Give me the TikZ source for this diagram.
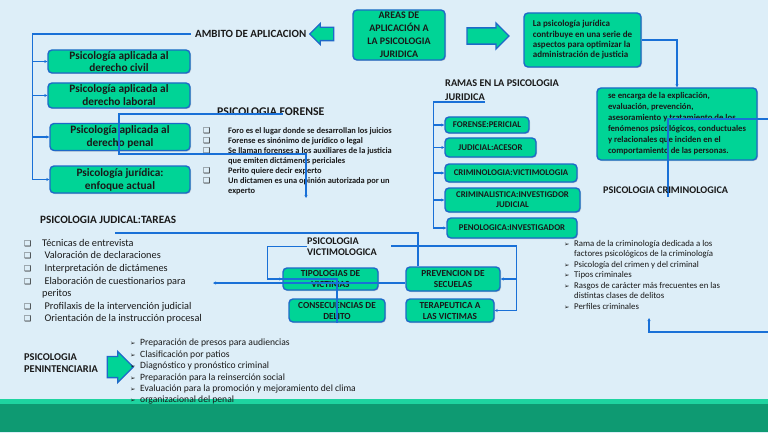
\documentclass[tikz,border=0pt]{standalone}
\usepackage{fontspec}
\setmainfont{Carlito}
\newfontfamily\symfont{DejaVu Sans}
\usetikzlibrary{positioning,arrows.meta,shapes.arrows,shadows}

\definecolor{bgblue}{RGB}{221,238,248}
\definecolor{boxgreen}{RGB}{0,212,150}
\definecolor{edgeblue}{RGB}{30,105,200}
\definecolor{lineblue}{RGB}{25,112,215}
\definecolor{bandlight}{RGB}{30,212,160}
\definecolor{banddark}{RGB}{14,154,114}
\definecolor{ink}{RGB}{25,25,25}

\newcommand{\sqbul}{{\symfont\fontsize{8}{8}\selectfont ❑}}
\newcommand{\arbul}{{\symfont\fontsize{6.5}{6.5}\selectfont ➢}}
\newcommand{\fs}[2]{\fontsize{#1}{#2}\selectfont}

\tikzset{
  greenbox/.style={draw=edgeblue, line width=1.4pt, fill=boxgreen, rounded corners=4pt,
    align=center, font=\bfseries, text=ink, inner sep=1pt,
    drop shadow={shadow xshift=1pt, shadow yshift=-1pt, opacity=0.35}},
  link/.style={lineblue, line width=1.1pt},
  linkarrow/.style={link, -{Stealth[length=3pt,width=3pt]}},
  blockarrow/.style={single arrow, draw=edgeblue, fill=boxgreen, line width=1.3pt,
    single arrow head extend=4pt, inner xsep=0pt, inner ysep=6pt},
  title/.style={font=\bfseries, text=ink, inner sep=0pt, anchor=west, align=left},
  listtext/.style={text=ink, inner sep=0pt, anchor=north west, align=left},
}

\begin{document}
\begin{tikzpicture}[x=1pt,y=-1pt]
% background and bottom band
\fill[bgblue] (0,0) rectangle (768,433);
\fill[bandlight] (0,399) rectangle (768,404);
\fill[banddark] (0,404) rectangle (768,432);
\useasboundingbox (0,0) rectangle (768,433);

% centre box and block arrows
\node[greenbox, minimum width=92pt, minimum height=50pt, font=\bfseries\fs{10}{13}] (areas) at (399,35)
  {AREAS DE\\APLICACIÓN A\\LA PSICOLOGIA\\JURIDICA};
\node[blockarrow, shape border rotate=180, minimum height=24pt, minimum width=20pt] (leftarrow) at (325,34) {};
\node[blockarrow, minimum height=42pt, minimum width=26pt] (rightarrow) at (484,36) {};

% ambito de aplicacion
\node[title, font=\bfseries\fs{11}{12}] (ambito) at (195,34) {AMBITO DE APLICACION};
\node[greenbox, minimum width=142pt, minimum height=23pt, font=\bfseries\fs{11.3}{12}] (civil) at (119,61.5)
  {Psicología aplicada al\\derecho civil};
\node[greenbox, minimum width=142pt, minimum height=25pt, font=\bfseries\fs{11.3}{13}] (laboral) at (119,95.5)
  {Psicología aplicada al\\derecho laboral};
\node[greenbox, minimum width=140pt, minimum height=27pt, font=\bfseries\fs{11.3}{13}] (penal) at (120,137)
  {Psicología aplicada al\\derecho penal};
\node[greenbox, minimum width=140pt, minimum height=27pt, font=\bfseries\fs{11.3}{13}] (actual) at (120,179.5)
  {Psicología jurídica:\\enfoque actual};

\coordinate (ambbus) at (33,34);
\draw[linkarrow] ([xshift=-4pt]ambito.west) -| ([xshift=-17pt]actual.west) -- (actual.west);
\foreach \b in {civil,laboral,penal}
  \draw[linkarrow] (\b.west -| ambbus) -- (\b.west);

% psicologia forense
\node[title, font=\bfseries\fs{11.8}{13}] (forense) at (217,112) {PSICOLOGIA FORENSE};
\node[listtext, font=\bfseries\fs{8.4}{10}] (forlist) at (203,127) {%
  \makebox[25pt][l]{\sqbul}Foro es el lugar donde se desarrollan los juicios\\
  \makebox[25pt][l]{\sqbul}Forense es sinónimo de jurídico o legal\\
  \makebox[25pt][l]{\sqbul}Se llaman forenses a los auxiliares de la justicia\\
  \hspace*{25pt}que emiten dictámenes periciales\\
  \makebox[25pt][l]{\sqbul}Perito quiere decir experto\\
  \makebox[25pt][l]{\sqbul}Un dictamen es una opinión autorizada por un\\
  \hspace*{25pt}experto};
\coordinate (forstart) at (283,114);
\coordinate (forcorner) at (119,154);
\coordinate (forend) at (306,198);
\draw[linkarrow] (forstart) -| (forcorner) -| (forend);

% la psicologia juridica contribuye
\node[greenbox, minimum width=117pt, minimum height=54pt, align=left,
  font=\bfseries\fs{9}{10.3}] (contrib) at (582.5,40)
  {La psicología jurídica\\contribuye en una serie de\\aspectos para optimizar la\\administración de justicia};
\node[greenbox, minimum width=160pt, minimum height=72pt, align=left,
  font=\bfseries\fs{8.7}{11}] (encarga) at (677,124)
  {se encarga de la explicación,\\evaluación, prevención,\\asesoramiento y tratamiento de los\\fenómenos psicológicos, conductuales\\y relacionales que inciden en el\\comportamiento de las personas.};
\draw[linkarrow] (contrib.east) -| (encarga.north);
\coordinate (edgeA) at (768,119);
\coordinate (crimend) at (668,197);
\draw[link] (edgeA) -| (crimend);

% psicologia criminologica
\node[title, font=\bfseries\fs{10.2}{11}] (crimino) at (603,190) {PSICOLOGIA CRIMINOLOGICA};
\node[listtext, font=\fs{8.8}{10.5}] (crimlist) at (564,240) {%
  \makebox[10pt][l]{\arbul}Rama de la criminología dedicada a los\\
  \hspace*{10pt}factores psicológicos de la criminología\\
  \makebox[10pt][l]{\arbul}Psicología del crimen y del criminal\\
  \makebox[10pt][l]{\arbul}Tipos criminales\\
  \makebox[10pt][l]{\arbul}Rasgos de carácter más frecuentes en las\\
  \hspace*{10pt}distintas clases de delitos\\
  \makebox[10pt][l]{\arbul}Perfiles criminales};
\coordinate (edgeB) at (768,332);
\coordinate (crimlistend) at (649,318);
\draw[linkarrow] (edgeB) -| (crimlistend);

% ramas en la psicologia juridica
\node[title, font=\bfseries\fs{10.3}{14}] (ramas) at (445,90) {RAMAS EN LA PSICOLOGIA\\JURIDICA};
\node[greenbox, minimum width=84pt, minimum height=16pt, font=\bfseries\fs{8.8}{9}] (forbox) at (487,125) {FORENSE:PERICIAL};
\node[greenbox, minimum width=91pt, minimum height=19pt, font=\bfseries\fs{8.8}{9}] (judbox) at (490.5,147.5) {JUDICIAL:ACESOR};
\node[greenbox, minimum width=132pt, minimum height=18pt, font=\bfseries\fs{8.8}{9}] (crimbox) at (511,173) {CRIMINOLOGIA:VICTIMOLOGIA};
\node[greenbox, minimum width=135pt, minimum height=24pt, font=\bfseries\fs{8.8}{10}] (crimlbox) at (512.5,200) {CRIMINALISTICA:INVESTIGDOR\\JUDICIAL};
\node[greenbox, minimum width=130pt, minimum height=20pt, font=\bfseries\fs{8.8}{9}] (penbox) at (512,228) {PENOLOGICA:INVESTIGADOR};
\coordinate (ramstart) at (485,102);
\coordinate (rambus) at (434,102);
\draw[linkarrow] (ramstart) -| ([xshift=-13pt]penbox.west) -- (penbox.west);
\foreach \b in {forbox,judbox,crimbox,crimlbox}
  \draw[linkarrow] (\b.west -| rambus) -- (\b.west);

% psicologia judicial: tareas
\node[title, font=\bfseries\fs{11.2}{12}] (tareas) at (40,220) {PSICOLOGIA JUDICAL:TAREAS};
\node[listtext, font=\fs{10.3}{12.6}] (tarlist) at (24,239) {%
  \makebox[18pt][l]{\sqbul}Técnicas de entrevista\\
  \makebox[18pt][l]{\sqbul} Valoración de declaraciones\\
  \makebox[18pt][l]{\sqbul} Interpretación de dictámenes\\
  \makebox[18pt][l]{\sqbul} Elaboración de cuestionarios para\\
  \hspace*{18pt}peritos\\
  \makebox[18pt][l]{\sqbul} Profilaxis de la intervención judicial\\
  \makebox[18pt][l]{\sqbul} Orientación de la instrucción procesal};

% psicologia victimologica
\node[title, font=\bfseries\fs{10.2}{11}] (victim) at (307,246.5) {PSICOLOGIA\\VICTIMOLOGICA};
\node[greenbox, minimum width=95pt, minimum height=22pt, font=\bfseries\fs{9.3}{11}] (tipologias) at (330.5,279) {TIPOLOGIAS DE\\VICTIMAS};
\node[greenbox, minimum width=96pt, minimum height=23pt, font=\bfseries\fs{9.3}{11}] (consecuencias) at (337,310.5) {CONSECUENCIAS DE\\DELITO};
\node[greenbox, minimum width=94pt, minimum height=24pt, font=\bfseries\fs{9.3}{11}] (prevencion) at (453,279) {PREVENCION DE\\SECUELAS};
\node[greenbox, minimum width=88pt, minimum height=23pt, font=\bfseries\fs{9.3}{11}] (terapeutica) at (450,310.5) {TERAPEUTICA A\\LAS VICTIMAS};

\coordinate (tareasend) at (115,233);
\draw[link] ([xshift=-35pt]prevencion.north) |- (tareasend);
\coordinate (bracketA) at (391,246);
\draw[linkarrow] (bracketA) -| ([xshift=22pt]terapeutica.east) -- (terapeutica.east);
\draw[linkarrow] ([xshift=16pt]prevencion.east) -- (prevencion.east);
\draw[linkarrow] (victim.west) -| ([xshift=-15pt]tipologias.west) -- (tipologias.west);
\draw[link] ([xshift=-15pt]tipologias.west) -| (consecuencias.south);
\coordinate (tareasitem) at (213,283);
\draw[linkarrow] ([yshift=-4pt]prevencion.west) -- (tareasitem);

% psicologia penitenciaria
\node[title, font=\bfseries\fs{10.4}{12}] (penit) at (24,363) {PSICOLOGIA\\PENINTENCIARIA};
\node[blockarrow, minimum height=26pt, minimum width=31pt, inner ysep=8pt] (penarrow) at (115,367) {};
\node[listtext, font=\fs{9.6}{11.4}] (penlist) at (130,339) {%
  \makebox[10pt][l]{\arbul}Preparación de presos para audiencias\\
  \makebox[10pt][l]{\arbul}Clasificación por patios\\
  \makebox[10pt][l]{\arbul}Diagnóstico y pronóstico criminal\\
  \makebox[10pt][l]{\arbul}Preparación para la reinserción social\\
  \makebox[10pt][l]{\arbul}Evaluación para la promoción y mejoramiento del clima\\
  \makebox[10pt][l]{\arbul}organizacional del penal};
\end{tikzpicture}
\end{document}
